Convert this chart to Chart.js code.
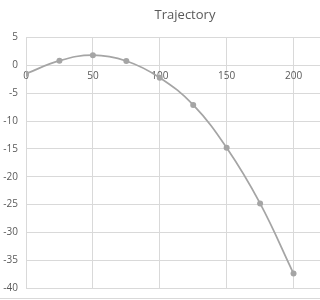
<!DOCTYPE html>
<html>
<head>
<meta charset="utf-8">
<script src="https://cdn.jsdelivr.net/npm/chart.js@4"></script>
<style>
  html, body { margin: 0; padding: 0; background: #fff; overflow: hidden; }
  #wrap { position: relative; width: 320px; height: 298px; overflow: hidden; border-bottom: 1px solid #d9d9d9; }
  #chart { position: absolute; left: 0; top: 0; }
</style>
</head>
<body>
<div id="wrap">
  <canvas id="chart" width="374" height="302"></canvas>
</div>
<script>
const titleText = 'Trajectory';
const distance = [0, 25, 50, 75, 100, 125, 150, 175, 200];
const height = [-1.5, 0.85, 1.85, 0.8, -2.2, -7.1, -14.8, -24.8, -37.4];
const xTicks = [0, 50, 100, 150, 200, 250];
const yTicks = [5, 0, -5, -10, -15, -20, -25, -30, -35, -40];

const points = distance.map((d, i) => ({ x: d, y: height[i] }));

const ctx = document.getElementById('chart').getContext('2d');
new Chart(ctx, {
  type: 'scatter',
  data: {
    datasets: [{
      label: titleText,
      data: points,
      showLine: true,
      tension: 0.4,
      borderColor: '#a5a5a5',
      backgroundColor: '#a5a5a5',
      borderWidth: 1.75,
      pointRadius: 3,
      pointBorderWidth: 0
    }]
  },
  options: {
    responsive: false,
    animation: false,
    layout: { padding: { left: 1, right: 5, top: 0, bottom: 2 } },
    plugins: {
      legend: { display: false },
      tooltip: { enabled: false },
      title: {
        display: true,
        text: titleText,
        color: '#595959',
        font: { family: 'Open Sans', size: 13, weight: 'normal' },
        padding: { top: 7, bottom: 15 }
      }
    },
    scales: {
      x: {
        type: 'linear',
        position: { y: 0 },
        min: 0,
        max: 250,
        afterBuildTicks: (scale) => { scale.ticks = xTicks.map(v => ({ value: v })); },
        grid: { color: '#d9d9d9', drawTicks: false },
        border: { display: false },
        ticks: {
          color: '#595959',
          font: { family: 'Open Sans', size: 10 },
          padding: 5,
          maxRotation: 0
        }
      },
      y: {
        min: -40,
        max: 5,
        afterBuildTicks: (scale) => { scale.ticks = yTicks.map(v => ({ value: v })); },
        afterFit: (scale) => { scale.width = 25; },
        grid: { color: '#d9d9d9', drawTicks: false },
        border: { display: false },
        ticks: {
          color: '#595959',
          font: { family: 'Open Sans', size: 10 },
          padding: 8
        }
      }
    }
  }
});
</script>
</body>
</html>
